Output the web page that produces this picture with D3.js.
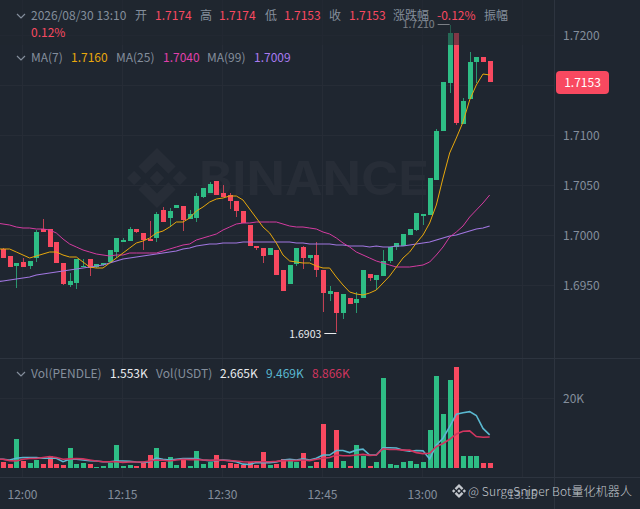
<!DOCTYPE html>
<html>
<head>
<meta charset="utf-8">
<script src="https://cdn.jsdelivr.net/npm/d3@7"></script>
<style>
html,body{margin:0;padding:0;background:#1f2630;overflow:hidden}
svg{display:block}
text{font-family:"Noto Sans CJK SC","Noto Sans",sans-serif}
</style>
</head>
<body>
<svg id="svg" width="640" height="509"></svg>
<script>
var opens = [1.6986,1.6979,1.6969,1.6973,1.6969,1.6977,1.7006,1.7006,1.6993,1.6972,1.6950,1.6952,1.6968,1.6976,1.6968,1.6970,1.6973,1.6983,1.6993,1.6994,1.7006,1.7002,1.6996,1.6997,1.7025,1.7017,1.7027,1.7029,1.7016,1.7017,1.7038,1.7042,1.7054,1.7042,1.7040,1.7034,1.7024,1.7010,1.6989,1.6987,1.6980,1.6985,1.6965,1.6951,1.6971,1.6988,1.6977,1.6980,1.6965,1.6941,1.6943,1.6922,1.6937,1.6932,1.6937,1.6961,1.6955,1.6959,1.6974,1.6988,1.6989,1.7000,1.7005,1.7019,1.7020,1.7055,1.7104,1.7152,1.7202,1.7111,1.7136,1.7173,1.7178,1.7174];
var closes = [1.6977,1.6968,1.6972,1.6968,1.6974,1.7003,1.7003,1.6988,1.6972,1.6951,1.6954,1.6976,1.6969,1.6967,1.6971,1.6972,1.6985,1.6997,1.6995,1.7006,1.7003,1.6995,1.6994,1.7021,1.7013,1.7024,1.7030,1.7015,1.7021,1.7039,1.7047,1.7051,1.7040,1.7038,1.7034,1.7024,1.7012,1.6989,1.6987,1.6979,1.6987,1.6960,1.6944,1.6970,1.6987,1.6977,1.6980,1.6965,1.6942,1.6944,1.6922,1.6941,1.6931,1.6936,1.6965,1.6957,1.6960,1.6974,1.6988,1.6992,1.7001,1.7006,1.7022,1.7021,1.7057,1.7104,1.7153,1.7202,1.7112,1.7134,1.7173,1.7178,1.7173,1.7153];
var highs = [1.6987,1.6979,1.6972,1.6977,1.6974,1.7005,1.7016,1.7006,1.6993,1.6972,1.6962,1.6976,1.6976,1.6976,1.6971,1.6972,1.6985,1.6997,1.6997,1.7008,1.7006,1.7002,1.7014,1.7023,1.7028,1.7027,1.7030,1.7029,1.7025,1.7042,1.7047,1.7053,1.7054,1.7050,1.7042,1.7034,1.7024,1.7010,1.6989,1.6987,1.6987,1.6985,1.6965,1.6970,1.6987,1.6989,1.6980,1.6993,1.6965,1.6949,1.6943,1.6941,1.6937,1.6943,1.6965,1.6961,1.6960,1.6985,1.6988,1.6992,1.7001,1.7006,1.7022,1.7021,1.7057,1.7106,1.7153,1.7210,1.7202,1.7137,1.7183,1.7178,1.7178,1.7174];
var lows = [1.6977,1.6968,1.6947,1.6968,1.6966,1.6973,1.7003,1.6988,1.6972,1.6950,1.6948,1.6946,1.6968,1.6959,1.6967,1.6969,1.6972,1.6977,1.6993,1.6994,1.7002,1.6985,1.6994,1.6993,1.7013,1.7008,1.7027,1.7004,1.7016,1.7013,1.7037,1.7042,1.7040,1.7038,1.7026,1.7018,1.7012,1.6989,1.6985,1.6972,1.6980,1.6960,1.6944,1.6951,1.6969,1.6966,1.6974,1.6958,1.6923,1.6934,1.6903,1.6916,1.6931,1.6922,1.6937,1.6954,1.6945,1.6959,1.6972,1.6985,1.6989,1.7000,1.7004,1.7010,1.7020,1.7055,1.7104,1.7142,1.7110,1.7111,1.7136,1.7152,1.7173,1.7153];
var volumes = [1.7,1.1,8.3,2.0,1.4,2.3,1.1,3.4,1.1,0.9,5.7,1.1,1.4,1.1,0.4,0.6,1.4,6.6,0.6,0.9,0.6,1.4,3.7,5.7,1.7,3.1,0.9,2.6,0.6,4.9,1.1,1.7,3.7,0.9,1.4,1.1,0.9,1.7,0.9,4.6,0.9,1.1,2.6,2.6,1.7,4.3,0.6,1.7,12.6,1.7,10.9,2.0,0.6,6.6,3.4,0.6,1.7,25.7,1.1,0.9,1.7,2.0,1.1,1.7,10.9,26.3,15.4,25.1,28.9,3.4,3.4,3.4,1.4,1.553];

// moving averages carry one extra leading value, for the minute before the first candle
var ma7 = [1.6986,1.6986,1.6986,1.6983,1.6980,1.6977,1.6979,1.6981,1.6983,1.6983,1.6980,1.6978,1.6978,1.6973,1.6968,1.6967,1.6967,1.6972,1.6977,1.6982,1.6987,1.6992,1.6994,1.6997,1.7002,1.7004,1.7008,1.7013,1.7013,1.7017,1.7024,1.7028,1.7033,1.7036,1.7037,1.7039,1.7039,1.7035,1.7026,1.7017,1.7008,1.7002,1.6992,1.6980,1.6974,1.6973,1.6972,1.6972,1.6969,1.6967,1.6967,1.6958,1.6950,1.6943,1.6941,1.6940,1.6942,1.6945,1.6952,1.6959,1.6968,1.6977,1.6983,1.6992,1.7000,1.7012,1.7030,1.7057,1.7082,1.7097,1.7113,1.7135,1.7150,1.7161,1.7160];
var ma25 = [1.7012,1.7011,1.7010,1.7008,1.7007,1.7007,1.7006,1.7006,1.7005,1.7002,1.6996,1.6991,1.6988,1.6985,1.6983,1.6981,1.6980,1.6979,1.6980,1.6980,1.6982,1.6982,1.6982,1.6982,1.6982,1.6984,1.6986,1.6988,1.6990,1.6991,1.6995,1.6997,1.6999,1.7001,1.7005,1.7008,1.7011,1.7012,1.7012,1.7013,1.7013,1.7013,1.7013,1.7011,1.7009,1.7008,1.7008,1.7007,1.7006,1.7003,1.7001,1.6997,1.6992,1.6988,1.6983,1.6980,1.6977,1.6974,1.6972,1.6970,1.6968,1.6968,1.6968,1.6969,1.6970,1.6973,1.6980,1.6988,1.6998,1.7003,1.7009,1.7018,1.7025,1.7032,1.7040];
var ma99 = [1.6953,1.6954,1.6955,1.6956,1.6957,1.6958,1.6960,1.6961,1.6962,1.6963,1.6964,1.6965,1.6966,1.6967,1.6968,1.6969,1.6970,1.6972,1.6974,1.6976,1.6977,1.6978,1.6979,1.6980,1.6981,1.6982,1.6983,1.6984,1.6986,1.6987,1.6989,1.6990,1.6991,1.6991,1.6992,1.6992,1.6992,1.6993,1.6993,1.6993,1.6993,1.6993,1.6993,1.6993,1.6993,1.6992,1.6992,1.6991,1.6991,1.6991,1.6991,1.6990,1.6990,1.6989,1.6989,1.6989,1.6988,1.6989,1.6988,1.6988,1.6989,1.6989,1.6990,1.6991,1.6992,1.6993,1.6995,1.6997,1.6999,1.7000,1.7002,1.7004,1.7006,1.7007,1.7009];
var volMaA = [2.5,2.5,2.3,2.8,3.0,3.0,3.0,2.8,2.8,2.8,1.8,2.5,2.5,2.3,2.1,2.0,1.8,1.8,2.0,2.0,1.9,1.7,1.6,1.8,2.8,2.5,2.3,2.5,2.7,2.7,2.7,2.3,2.1,2.1,2.3,2.1,1.8,1.1,1.0,1.6,1.5,1.5,1.7,2.3,2.5,2.3,2.6,2.3,2.8,3.7,3.7,5.0,5.0,4.4,5.1,5.4,3.7,3.7,5.8,5.8,5.7,5.1,4.8,5.0,4.9,2.6,6.6,8.5,11.8,15.4,15.8,16.1,15.0,11.3,9.469];
var volMaB = [2.5,2.5,2.1,2.0,2.5,2.7,2.7,3.0,3.3,3.0,2.5,2.6,2.7,2.6,2.3,2.0,1.8,1.8,1.8,1.6,1.7,1.7,1.7,2.0,2.3,2.2,2.0,2.3,2.5,2.4,2.4,2.3,2.2,2.3,2.2,2.1,2.0,1.8,1.7,1.8,1.8,1.8,1.9,2.1,2.1,2.1,2.3,2.1,2.5,2.8,3.0,3.7,3.5,3.5,3.7,3.9,3.6,3.7,5.5,5.3,5.3,5.1,5.1,4.4,4.1,4.2,6.1,7.0,8.2,9.7,10.5,10.6,9.0,8.8,8.866];

var priceTicks = [1.72,1.71,1.705,1.7,1.695,1.715];
var priceLabels = [1.72,1.71,1.705,1.7,1.695];
var volTicks = [20];
var timeLabels = ["12:00","12:15","12:30","12:45","13:00","13:15"];

var legendOhlc = [
  {x:31,t:"2026/08/30 13:10",c:"#848e9c"},{x:135,t:"开",c:"#848e9c"},{x:155,t:"1.7174",c:"#f84960"},
  {x:200,t:"高",c:"#848e9c"},{x:219,t:"1.7174",c:"#f84960"},{x:265,t:"低",c:"#848e9c"},{x:284,t:"1.7153",c:"#f84960"},
  {x:329,t:"收",c:"#848e9c"},{x:349,t:"1.7153",c:"#f84960"},{x:393,t:"涨跌幅",c:"#848e9c"},{x:437,t:"-0.12%",c:"#f84960"},
  {x:484,t:"振幅",c:"#848e9c"}
];
var legendMa = [
  {x:31,t:"MA(7)",c:"#848e9c"},{x:71,t:"1.7160",c:"#e8a80c"},{x:116,t:"MA(25)",c:"#848e9c"},{x:163,t:"1.7040",c:"#e040ac"},
  {x:207,t:"MA(99)",c:"#848e9c"},{x:254,t:"1.7009",c:"#a97bf0"}
];
var legendVol = [
  {x:31,t:"Vol(PENDLE)",c:"#848e9c"},{x:110,t:"1.553K",c:"#eaecef"},{x:156,t:"Vol(USDT)",c:"#848e9c"},{x:220,t:"2.665K",c:"#eaecef"},
  {x:266,t:"9.469K",c:"#5ab8d0"},{x:312,t:"8.866K",c:"#d0355f"}
];

var UP = "#2ebd85", DOWN = "#f84960", GRID = "#262c36", BG = "#1f2630", MUTED = "#848e9c";

var svg = d3.select("#svg");
var startTime = Date.UTC(2026,7,30,11,57);
function minuteAt(i){ return new Date(startTime + i*60000); }

var x = d3.scaleUtc().domain([Date.UTC(2026,7,30,12,0),Date.UTC(2026,7,30,13,15)]).range([23,523]);
var yPrice = d3.scaleLinear().domain([1.695,1.72]).range([285,35]);
var yVol = d3.scaleLinear().domain([0,20]).range([468,398]);

svg.append("rect").attr("width",640).attr("height",509).attr("fill",BG);

// grid
var timeTicks = timeLabels.map(function(d,i){ return new Date(Date.UTC(2026,7,30,12,i*15)); });
var grid = svg.append("g").attr("stroke",GRID).attr("stroke-width",1);
timeTicks.forEach(function(t){
  var px = Math.round(x(t))-0.5;
  grid.append("line").attr("x1",px).attr("x2",px).attr("y1",0).attr("y2",477);
});
priceTicks.forEach(function(p){
  var py = Math.round(yPrice(p))+0.5;
  grid.append("line").attr("x1",0).attr("x2",555).attr("y1",py).attr("y2",py);
});
volTicks.forEach(function(v){
  var py = Math.round(yVol(v))+0.5;
  grid.append("line").attr("x1",0).attr("x2",555).attr("y1",py).attr("y2",py);
});
var frame = svg.append("g").attr("stroke","#2d343f").attr("stroke-width",1);
frame.append("line").attr("x1",554.5).attr("x2",554.5).attr("y1",0).attr("y2",509);
frame.append("line").attr("x1",0).attr("x2",640).attr("y1",358.5).attr("y2",358.5);
frame.append("line").attr("x1",0).attr("x2",640).attr("y1",477.5).attr("y2",477.5);

// watermark
var mark = svg.append("g").attr("fill","#272d37");
function binanceLogo(parent,cx,cy,s){
  var shapes = [
    [[0,-1],[.62,-.38],[.38,-.14],[0,-.52],[-.38,-.14],[-.62,-.38]],
    [[0,1],[.62,.38],[.38,.14],[0,.52],[-.38,.14],[-.62,.38]],
    [[-1,0],[-.76,-.24],[-.52,0],[-.76,.24]],
    [[1,0],[.76,-.24],[.52,0],[.76,.24]],
    [[0,-.24],[.24,0],[0,.24],[-.24,0]]
  ];
  shapes.forEach(function(pts){
    parent.append("path").attr("d",d3.line().x(function(d){return cx+d[0]*s;}).y(function(d){return cy+d[1]*s;})(pts)+"Z");
  });
}
binanceLogo(mark,157,178,30);
mark.append("text").attr("x",199).attr("y",195).attr("font-size",46).attr("font-weight",700)
  .attr("textLength",230).attr("lengthAdjust","spacingAndGlyphs")
  .style("font-family","Inter,'Noto Sans',sans-serif").text("BINANCE");

// candles
var candles = svg.append("g");
opens.forEach(function(o,i){
  var c = closes[i], col = c>=o ? UP : DOWN, cx = Math.round(x(minuteAt(i)));
  var top = Math.round(yPrice(Math.max(o,c))), bot = Math.round(yPrice(Math.min(o,c)));
  candles.append("rect").attr("x",cx).attr("width",1).attr("y",yPrice(highs[i])).attr("height",yPrice(lows[i])-yPrice(highs[i])).attr("fill",col).attr("opacity",.75);
  candles.append("rect").attr("x",cx-2).attr("width",5).attr("y",top).attr("height",Math.max(bot-top,1)).attr("fill",col);
});

// moving averages
function maLine(values,scale){
  return d3.line().x(function(d,i){ return x(minuteAt(i-1)); }).y(function(d){ return scale(d); })(values);
}
[[ma99,"#a176e0",1.2],[ma25,"#d43ba0",1],[ma7,"#e8a80c",1]].forEach(function(m){
  svg.append("path").attr("d",maLine(m[0],yPrice)).attr("fill","none").attr("stroke",m[1]).attr("stroke-width",m[2]);
});

// high and low markers
var hi = d3.max(highs), lo = d3.min(lows);
var hx = x(minuteAt(highs.indexOf(hi))), lx = x(minuteAt(lows.indexOf(lo)));
svg.append("line").attr("x1",hx-12).attr("x2",hx).attr("y1",24.5).attr("y2",24.5).attr("stroke","#eaecef");
svg.append("text").attr("x",hx-15).attr("y",28).attr("text-anchor","end").attr("font-size",10.5).attr("fill","#eaecef").text(d3.format(".4f")(hi));
svg.append("line").attr("x1",lx-12).attr("x2",lx).attr("y1",333.5).attr("y2",333.5).attr("stroke","#eaecef");
svg.append("text").attr("x",lx-15).attr("y",338).attr("text-anchor","end").attr("font-size",10.5).attr("fill","#eaecef").text(d3.format(".4f")(lo));

// translucent band under the top legend
svg.append("rect").attr("width",554).attr("height",45).attr("fill",BG).attr("opacity",.55);

// legends
function chevron(y){
  svg.append("path").attr("d","M17 "+y+"L21 "+(y+4)+"L25 "+y).attr("fill","none").attr("stroke",MUTED).attr("stroke-width",1.2);
}
function legendRow(items,y){
  svg.append("g").selectAll("text").data(items).enter().append("text")
    .attr("x",function(d){return d.x;}).attr("y",y).attr("font-size",12).attr("fill",function(d){return d.c;})
    .text(function(d){return d.t;});
}
chevron(14); chevron(56); chevron(372);
legendRow(legendOhlc,20);
svg.append("text").attr("x",31).attr("y",37).attr("font-size",12).attr("fill",DOWN).text("0.12%");
legendRow(legendMa,62);
legendRow(legendVol,378);

// volume
var vols = svg.append("g");
volumes.forEach(function(v,i){
  var cx = Math.round(x(minuteAt(i))), top = Math.round(yVol(v));
  vols.append("rect").attr("x",cx-2).attr("width",5).attr("y",top).attr("height",yVol(0)-top)
    .attr("fill",closes[i]>=opens[i] ? UP : DOWN);
});
svg.append("path").attr("d",maLine(volMaA,yVol)).attr("fill","none").attr("stroke","#5ab8d0").attr("stroke-width",1.6);
svg.append("path").attr("d",maLine(volMaB,yVol)).attr("fill","none").attr("stroke","#d0355f").attr("stroke-width",1.6);

// axes
var priceAxis = d3.axisRight(yPrice).tickValues(priceLabels).tickSize(0).tickPadding(0).tickFormat(d3.format(".4f"));
var volAxis = d3.axisRight(yVol).tickValues(volTicks).tickSize(0).tickPadding(0).tickFormat(function(d){return d+"K";});
var timeAxis = d3.axisBottom(x).tickValues(timeTicks).tickSize(0).tickPadding(0).tickFormat(function(d,i){return timeLabels[i];});
[svg.append("g").attr("transform","translate(563,1)").call(priceAxis),
 svg.append("g").attr("transform","translate(563,1)").call(volAxis),
 svg.append("g").attr("transform","translate(-1,490)").call(timeAxis)].forEach(function(g){
  g.select(".domain").remove();
  g.selectAll("text").attr("fill",MUTED).attr("font-size",12).style("font-family",'"Noto Sans CJK SC","Noto Sans",sans-serif');
});

// last price tag
svg.append("rect").attr("x",556).attr("y",71).attr("width",53).attr("height",23).attr("rx",4).attr("fill",DOWN);
svg.append("text").attr("x",582.5).attr("y",87).attr("text-anchor","middle").attr("font-size",12).attr("fill","#fff").text("1.7153");

// bot footer
var foot = svg.append("g").attr("fill","#c4c8ce");
binanceLogo(foot,459,491,7);
foot.append("text").attr("x",468).attr("y",495.5).attr("font-size",12).attr("font-weight",300).attr("textLength",164).text("@ SurgeSniper Bot量化机器人");
</script>
</body>
</html>
